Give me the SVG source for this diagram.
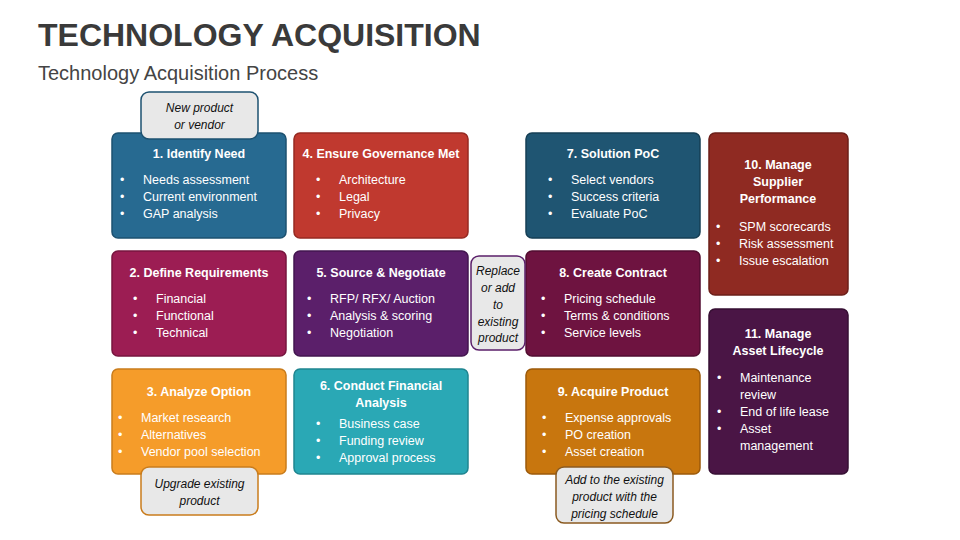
<svg xmlns="http://www.w3.org/2000/svg" width="960" height="540" viewBox="0 0 960 540">
<style>
.b{stroke-width:1.5}
.h{font-family:"Liberation Sans",Arial,sans-serif;font-weight:bold;font-size:12.5px;fill:#fff;text-anchor:middle}
.t{font-family:"Liberation Sans",Arial,sans-serif;font-size:12.5px;fill:#fff}
.c{font-family:"Liberation Sans",Arial,sans-serif;font-style:italic;font-size:12px;fill:#111;text-anchor:middle}
.cb{fill:#e8e8e8;stroke-width:1.5}
</style>
<rect width="960" height="540" fill="#fff"/>
<text x="38" y="46" font-family="Liberation Sans,Arial,sans-serif" font-weight="bold" font-size="32" fill="#3a3a3a">TECHNOLOGY ACQUISITION</text>
<text x="38" y="80" font-family="Liberation Sans,Arial,sans-serif" font-size="20" fill="#444">Technology Acquisition Process</text>

<g id="n1"><rect class="b" x="112" y="133" width="174" height="105" rx="6" fill="#276a91" stroke="#1d5170"/>
<text class="h" x="199" y="158">1. Identify Need</text>
<text class="t" x="120" y="184">•<tspan x="143">Needs assessment</tspan></text>
<text class="t" x="120" y="201">•<tspan x="143">Current environment</tspan></text>
<text class="t" x="120" y="218">•<tspan x="143">GAP analysis</tspan></text></g>

<g id="n4"><rect class="b" x="294" y="133" width="174" height="105" rx="6" fill="#c0392f" stroke="#962a22"/>
<text class="h" x="381" y="158">4. Ensure Governance Met</text>
<text class="t" x="316" y="184">•<tspan x="339">Architecture</tspan></text>
<text class="t" x="316" y="201">•<tspan x="339">Legal</tspan></text>
<text class="t" x="316" y="218">•<tspan x="339">Privacy</tspan></text></g>

<g id="n2"><rect class="b" x="112" y="251" width="174" height="105" rx="6" fill="#9c1d53" stroke="#77153f"/>
<text class="h" x="199" y="277">2. Define Requirements</text>
<text class="t" x="133" y="303">•<tspan x="156">Financial</tspan></text>
<text class="t" x="133" y="320">•<tspan x="156">Functional</tspan></text>
<text class="t" x="133" y="337">•<tspan x="156">Technical</tspan></text></g>

<g id="n5"><rect class="b" x="294" y="251" width="174" height="105" rx="6" fill="#5b1f6a" stroke="#431650"/>
<text class="h" x="381" y="277">5. Source &amp; Negotiate</text>
<text class="t" x="307" y="303">•<tspan x="330">RFP/ RFX/ Auction</tspan></text>
<text class="t" x="307" y="320">•<tspan x="330">Analysis &amp; scoring</tspan></text>
<text class="t" x="307" y="337">•<tspan x="330">Negotiation</tspan></text></g>

<g id="n3"><rect class="b" x="112" y="369" width="174" height="105" rx="6" fill="#f59c2a" stroke="#c97c1c"/>
<text class="h" x="199" y="396">3. Analyze Option</text>
<text class="t" x="118" y="422">•<tspan x="141">Market research</tspan></text>
<text class="t" x="118" y="439">•<tspan x="141">Alternatives</tspan></text>
<text class="t" x="118" y="456">•<tspan x="141">Vendor pool selection</tspan></text></g>

<g id="n6"><rect class="b" x="294" y="369" width="174" height="105" rx="6" fill="#2aa8b5" stroke="#1f8590"/>
<text class="h" x="381" y="390">6. Conduct Financial</text>
<text class="h" x="381" y="407">Analysis</text>
<text class="t" x="316" y="428">•<tspan x="339">Business case</tspan></text>
<text class="t" x="316" y="445">•<tspan x="339">Funding review</tspan></text>
<text class="t" x="316" y="462">•<tspan x="339">Approval process</tspan></text></g>

<g id="n7"><rect class="b" x="526" y="133" width="174" height="105" rx="6" fill="#1f5572" stroke="#163f55"/>
<text class="h" x="613" y="158">7. Solution PoC</text>
<text class="t" x="548" y="184">•<tspan x="571">Select vendors</tspan></text>
<text class="t" x="548" y="201">•<tspan x="571">Success criteria</tspan></text>
<text class="t" x="548" y="218">•<tspan x="571">Evaluate PoC</tspan></text></g>

<g id="n8"><rect class="b" x="526" y="251" width="174" height="105" rx="6" fill="#6e1340" stroke="#520d30"/>
<text class="h" x="613" y="277">8. Create Contract</text>
<text class="t" x="541" y="303">•<tspan x="564">Pricing schedule</tspan></text>
<text class="t" x="541" y="320">•<tspan x="564">Terms &amp; conditions</tspan></text>
<text class="t" x="541" y="337">•<tspan x="564">Service levels</tspan></text></g>

<g id="n9"><rect class="b" x="526" y="369" width="174" height="105" rx="6" fill="#c8760e" stroke="#9c5a0a"/>
<text class="h" x="613" y="396">9. Acquire Product</text>
<text class="t" x="542" y="422">•<tspan x="565">Expense approvals</tspan></text>
<text class="t" x="542" y="439">•<tspan x="565">PO creation</tspan></text>
<text class="t" x="542" y="456">•<tspan x="565">Asset creation</tspan></text></g>

<g id="n10"><rect class="b" x="709" y="133" width="139" height="162" rx="6" fill="#8f2a22" stroke="#6c1f19"/>
<text class="h" x="778" y="169">10. Manage</text>
<text class="h" x="778" y="186">Supplier</text>
<text class="h" x="778" y="203">Performance</text>
<text class="t" x="716" y="231">•<tspan x="739">SPM scorecards</tspan></text>
<text class="t" x="716" y="248">•<tspan x="739">Risk assessment</tspan></text>
<text class="t" x="716" y="265">•<tspan x="739">Issue escalation</tspan></text></g>

<g id="n11"><rect class="b" x="709" y="309" width="139" height="165" rx="6" fill="#4a1545" stroke="#360f33"/>
<text class="h" x="778" y="338">11. Manage</text>
<text class="h" x="778" y="355">Asset Lifecycle</text>
<text class="t" x="717" y="382">•<tspan x="740">Maintenance</tspan></text>
<text class="t" x="740" y="399">review</text>
<text class="t" x="717" y="416">•<tspan x="740">End of life lease</tspan></text>
<text class="t" x="717" y="433">•<tspan x="740">Asset</tspan></text>
<text class="t" x="740" y="450">management</text></g>

<g id="callouts">
<g id="c1"><rect class="cb" x="141" y="92" width="117" height="47" rx="8" stroke="#1d5170"/>
<text class="c" x="199.5" y="112">New product</text><text class="c" x="199.5" y="129">or vendor</text></g>
<g id="c2"><rect class="cb" x="471" y="256" width="54" height="94" rx="8" stroke="#5b1f6a"/>
<text class="c" x="498" y="275">Replace</text><text class="c" x="498" y="292">or add</text><text class="c" x="498" y="309">to</text><text class="c" x="498" y="326">existing</text><text class="c" x="498" y="342">product</text></g>
<g id="c3"><rect class="cb" x="141" y="467" width="117" height="48" rx="8" stroke="#c97c1c"/>
<text class="c" x="199.5" y="488">Upgrade existing</text><text class="c" x="199.5" y="505">product</text></g>
<g id="c4"><rect class="cb" x="556" y="467" width="117" height="56" rx="8" stroke="#8a5a20"/>
<text class="c" x="614.5" y="484">Add to the existing</text><text class="c" x="614.5" y="501">product with the</text><text class="c" x="614.5" y="518">pricing schedule</text></g>
</g>
<g id="connectors"/>
</svg>
